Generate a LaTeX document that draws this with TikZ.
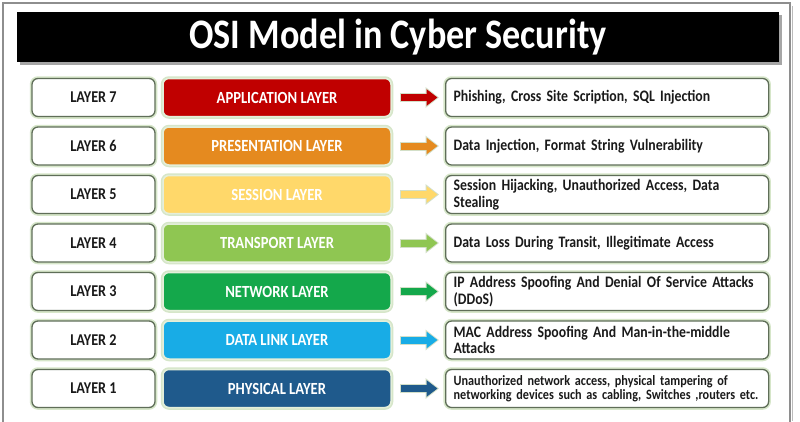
\documentclass[tikz,border=0pt]{standalone}
\usepackage{fontspec}
\setmainfont[FakeStretch=0.86]{Carlito}
\usetikzlibrary{arrows.meta}
\definecolor{bdr}{HTML}{5F6E58}
\definecolor{glow}{HTML}{D6E6C9}
\definecolor{cbdr}{HTML}{E4EFDA}
\definecolor{frm}{HTML}{8E8E8E}
\definecolor{txt}{HTML}{1A1A1A}
\definecolor{cseven}{HTML}{C00000}
\definecolor{csix}{HTML}{E58A1F}
\definecolor{cfive}{HTML}{FFD86A}
\definecolor{cfour}{HTML}{8FC652}
\definecolor{cthree}{HTML}{14A84B}
\definecolor{ctwo}{HTML}{18ACE6}
\definecolor{cone}{HTML}{1F5A8C}
\definecolor{aglow}{HTML}{D3DFC8}
\begin{document}
\begin{tikzpicture}[x=1pt,y=-1pt,
  glowbox/.style={rounded corners=6pt, minimum height=38pt, inner sep=0pt,
    preaction={draw=glow, line width=4.5pt}},
  lbox/.style={glowbox, draw=bdr, fill=white, line width=1.3pt, minimum width=123pt,
    text=txt, font=\bfseries\fontsize{16.5}{19}\selectfont},
  cbox/.style={glowbox, draw=cbdr, fill=#1, line width=1.5pt, minimum width=228pt,
    text=white, font=\bfseries\fontsize{17}{19}\selectfont},
  dbox/.style={glowbox, draw=bdr, fill=white, line width=1.3pt, anchor=west,
    text width=307pt, inner xsep=8pt, align=left, minimum width=323pt,
    text=txt, font=\bfseries\fontsize{16}{16.5}\selectfont},
  arr/.style={line width=7pt, draw=#1, -{Triangle[width=16pt,length=11pt]},
    shorten <=9pt, shorten >=7.5pt,
    preaction={draw=aglow, line width=9pt, -{Triangle[width=20pt,length=13.5pt]},
      shorten <=8pt, shorten >=6pt}}
]
\path[use as bounding box] (0,0) rectangle (800,421);
\clip (0,0) rectangle (800,421);
\fill[white] (0,0) rectangle (800,421);
% outer frame
\draw[frm, line width=2pt] (3,3) rectangle (790,440);
\draw[frm!60, line width=1.5pt] (792.5,6) -- (792.5,421);
% title bar
\fill[black!35] (20,15) rectangle (782,65);
\fill[black] (17,12) rectangle (779,62);
\node[text=white, font=\bfseries\fontsize{42}{46}\selectfont] (title) at (398,37) {OSI Model in Cyber Security};

% layer boxes
\node[lbox] (L7) at (93.5,97.5) {LAYER 7};
\node[lbox] (L6) at (93.5,146) {LAYER 6};
\node[lbox] (L5) at (93.5,194.5) {LAYER 5};
\node[lbox] (L4) at (93.5,243) {LAYER 4};
\node[lbox] (L3) at (93.5,291.5) {LAYER 3};
\node[lbox] (L2) at (93.5,340) {LAYER 2};
\node[lbox] (L1) at (93.5,388.5) {LAYER 1};

% coloured layers
\node[cbox=cseven] (C7) at (277,97.5) {APPLICATION LAYER};
\node[cbox=csix] (C6) at (277,146) {PRESENTATION LAYER};
\node[cbox=cfive] (C5) at (277,194.5) {SESSION LAYER};
\node[cbox=cfour] (C4) at (277,243) {TRANSPORT LAYER};
\node[cbox=cthree] (C3) at (277,291.5) {NETWORK LAYER};
\node[cbox=ctwo] (C2) at (277,340) {DATA LINK LAYER};
\node[cbox=cone] (C1) at (277,388.5) {PHYSICAL LAYER};

% descriptions
\node[dbox] (D7) at (445,97.5) {Phishing, Cross Site Scription, SQL Injection};
\node[dbox] (D6) at (445,146) {Data Injection, Format String Vulnerability};
\node[dbox] (D5) at (445,194.5) {Session Hijacking, Unauthorized Access, Data\\Stealing};
\node[dbox] (D4) at (445,243) {Data Loss During Transit, Illegitimate Access};
\node[dbox] (D3) at (445,291.5) {IP Address Spoofing And Denial Of Service Attacks\\(DDoS)};
\node[dbox] (D2) at (445,340) {MAC Address Spoofing And Man-in-the-middle\\Attacks};
\node[dbox, font=\bfseries\fontsize{14.2}{14.5}\selectfont] (D1) at (445,388.5)
  {\makebox[272pt][s]{Unauthorized network access, physical tampering of}\\networking devices such as cabling, Switches ,routers etc.};

% arrows
\draw[arr=cseven] (C7) -- (D7);
\draw[arr=csix] (C6) -- (D6);
\draw[arr=cfive] (C5) -- (D5);
\draw[arr=cfour] (C4) -- (D4);
\draw[arr=cthree] (C3) -- (D3);
\draw[arr=ctwo] (C2) -- (D2);
\draw[arr=cone] (C1) -- (D1);
\end{tikzpicture}
\end{document}
